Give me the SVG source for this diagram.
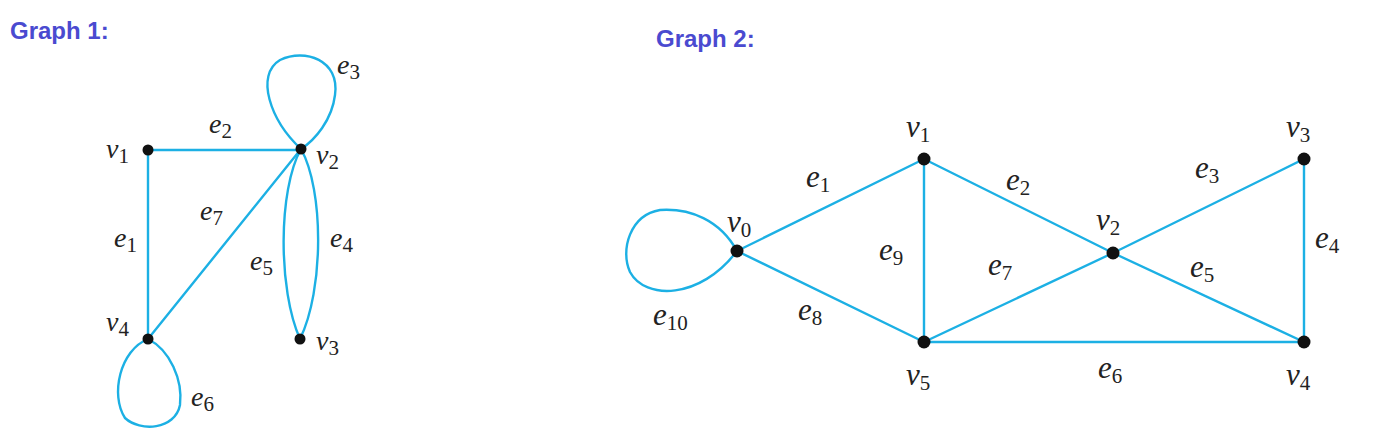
<svg xmlns="http://www.w3.org/2000/svg" width="1389" height="446" viewBox="0 0 1389 446">
<style>
.e{fill:none;stroke:#1cb0e4;stroke-width:2.4}
.n{fill:#111}
.t{font-family:"Liberation Serif",serif;font-style:italic;font-size:28px;fill:#222}
.t2{font-family:"Liberation Serif",serif;font-style:italic;font-size:31px;fill:#222}
.s{font-style:normal;font-size:21px}
.h{font-family:"Liberation Sans",Arial,sans-serif;font-weight:bold;font-size:24px;fill:#4a4ad0}
</style>
<rect width="1389" height="446" fill="#fff"/>
<text class="h" x="10" y="39">Graph 1:</text>
<text class="h" x="656" y="47">Graph 2:</text>
<g id="connectors">
<path class="e" d="M148 150H301M148 150V339M148 339L301 149"/>
<path class="e" d="M301 149C270 120 255 75 280 60C305 48 340 60 335 95C332 120 315 140 301 149"/>
<path class="e" d="M301 149C324 190 324 290 300 339M301 149C278 190 278 290 300 339"/>
<path class="e" d="M148 339C120 350 110 395 125 418C140 432 175 430 180 405C183 380 170 350 148 339"/>
<path class="e" d="M737 251L924 159L1113 253L1304 159V342H924V159M737 251L924 342L1113 253L1304 342"/>
<path class="e" d="M737 251C720 220 690 208 660 210C630 215 620 250 630 272C645 300 700 300 737 251"/>
</g>
<g id="g1-v1"><circle class="n" cx="148" cy="150" r="5.5"/><text class="t" x="106" y="158">v<tspan class="s" dy="5">1</tspan></text></g>
<g id="g1-v2"><circle class="n" cx="301" cy="149" r="5.5"/><text class="t" x="316" y="164">v<tspan class="s" dy="5">2</tspan></text></g>
<g id="g1-v3"><circle class="n" cx="300" cy="339" r="5.5"/><text class="t" x="316" y="350">v<tspan class="s" dy="5">3</tspan></text></g>
<g id="g1-v4"><circle class="n" cx="148" cy="339" r="5.5"/><text class="t" x="106" y="331">v<tspan class="s" dy="5">4</tspan></text></g>
<g id="g1-labels">
<text class="t" x="337" y="74">e<tspan class="s" dy="5">3</tspan></text>
<text class="t" x="209" y="133">e<tspan class="s" dy="5">2</tspan></text>
<text class="t" x="200" y="220">e<tspan class="s" dy="5">7</tspan></text>
<text class="t" x="114" y="247">e<tspan class="s" dy="5">1</tspan></text>
<text class="t" x="330" y="247">e<tspan class="s" dy="5">4</tspan></text>
<text class="t" x="250" y="270">e<tspan class="s" dy="5">5</tspan></text>
<text class="t" x="191" y="406">e<tspan class="s" dy="5">6</tspan></text>
</g>
<g id="g2-v0"><circle class="n" cx="737" cy="251" r="6.5"/><text class="t2" x="727" y="232">v<tspan class="s" dy="5">0</tspan></text></g>
<g id="g2-v1"><circle class="n" cx="924" cy="159" r="6.5"/><text class="t2" x="906" y="137">v<tspan class="s" dy="5">1</tspan></text></g>
<g id="g2-v2"><circle class="n" cx="1113" cy="253" r="6.5"/><text class="t2" x="1096" y="230">v<tspan class="s" dy="5">2</tspan></text></g>
<g id="g2-v3"><circle class="n" cx="1304" cy="159" r="6.5"/><text class="t2" x="1286" y="137">v<tspan class="s" dy="5">3</tspan></text></g>
<g id="g2-v4"><circle class="n" cx="1304" cy="342" r="6.5"/><text class="t2" x="1286" y="385">v<tspan class="s" dy="5">4</tspan></text></g>
<g id="g2-v5"><circle class="n" cx="924" cy="342" r="6.5"/><text class="t2" x="906" y="385">v<tspan class="s" dy="5">5</tspan></text></g>
<g id="g2-labels">
<text class="t2" x="806" y="187">e<tspan class="s" dy="5">1</tspan></text>
<text class="t2" x="1006" y="190">e<tspan class="s" dy="5">2</tspan></text>
<text class="t2" x="1195" y="178">e<tspan class="s" dy="5">3</tspan></text>
<text class="t2" x="1315" y="248">e<tspan class="s" dy="5">4</tspan></text>
<text class="t2" x="1190" y="277">e<tspan class="s" dy="5">5</tspan></text>
<text class="t2" x="1098" y="378">e<tspan class="s" dy="5">6</tspan></text>
<text class="t2" x="988" y="275">e<tspan class="s" dy="5">7</tspan></text>
<text class="t2" x="798" y="320">e<tspan class="s" dy="5">8</tspan></text>
<text class="t2" x="879" y="260">e<tspan class="s" dy="5">9</tspan></text>
<text class="t2" x="653" y="325">e<tspan class="s" dy="5">10</tspan></text>
</g>
</svg>
